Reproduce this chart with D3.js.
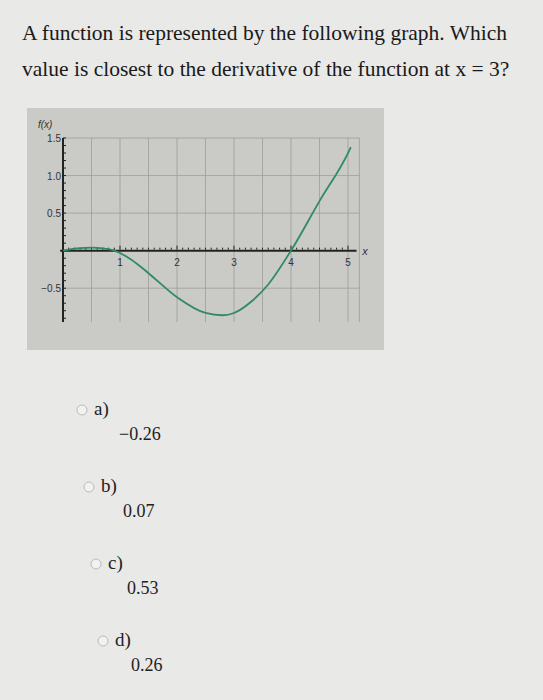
<!DOCTYPE html>
<meta charset="utf-8">
<script src="https://cdn.jsdelivr.net/npm/d3@7"></script>
<style>body{margin:0;background:#e9e9e7;}</style>
<div id="js_chart"></div>
<script>
// data
const curveX = [0, 0.25, 0.5, 0.7, 0.9, 1.2, 1.5, 2, 2.5, 2.8, 3, 3.3, 3.6, 4, 4.5, 5, 5.05];
const curveY = [0, 0.03, 0.04, 0.03, 0, -0.12, -0.3, -0.62, -0.83, -0.86, -0.83, -0.68, -0.45, 0, 0.66, 1.3, 1.38];
const xTicks = [1, 2, 3, 4, 5];
const yTicks = [1.5, 1.0, 0.5, -0.5];
const titleLines = ["A function is represented by the following graph. Which", "value is closest to the derivative of the function at x = 3?"];
const optLetters = ["a)", "b)", "c)", "d)"];
const optValues = ["\u22120.26", "0.07", "0.53", "0.26"];

const svg = d3.select("#js_chart").append("svg").attr("width", 543).attr("height", 700);

// title
svg.selectAll("text.title").data(titleLines).enter().append("text")
    .attr("x", 22).attr("y", (d, i) => 40 + i * 36)
    .style("font-family", "Liberation Serif").style("font-size", "21.5px").attr("fill", "#1a1a1a")
    .text(d => d);

// graph panel
svg.append("rect").attr("x", 27).attr("y", 108).attr("width", 357).attr("height", 242).attr("fill", "#cacac7");

let x = d3.scaleLinear().domain([0, 5]).range([63, 348]);
let y = d3.scaleLinear().domain([-0.95, 1.5]).range([322, 138]);

const g = svg.append("g");
// grid
g.selectAll("line.v").data(d3.range(0.5, 5.01, 0.5).concat([5.2])).enter().append("line")
    .attr("x1", d => x(d)).attr("x2", d => x(d)).attr("y1", y(1.5)).attr("y2", y(-0.95))
    .attr("stroke", "#9d9d9b").attr("stroke-width", 0.8);
g.selectAll("line.h").data([1.5, 1.0, 0.5, -0.5]).enter().append("line")
    .attr("x1", x(0)).attr("x2", x(5.2)).attr("y1", d => y(d)).attr("y2", d => y(d))
    .attr("stroke", "#9d9d9b").attr("stroke-width", 0.8);

// axes
g.append("line").attr("x1", x(0)).attr("x2", x(0)).attr("y1", y(1.5)).attr("y2", y(-0.95)).attr("stroke", "#222").attr("stroke-width", 2);
g.append("line").attr("x1", x(-0.05)).attr("x2", x(5.15)).attr("y1", y(0)).attr("y2", y(0)).attr("stroke", "#222").attr("stroke-width", 2);
g.selectAll("line.xt").data(d3.range(1, 51)).enter().append("line")
    .attr("x1", d => x(d / 10)).attr("x2", d => x(d / 10))
    .attr("y1", y(0) - 1).attr("y2", d => y(0) - (d % 10 === 0 ? 5 : 3))
    .attr("stroke", "#222");
g.selectAll("line.yt").data(d3.range(-9, 16)).enter().append("line")
    .attr("x1", x(0)).attr("x2", x(0) + 3).attr("y1", d => y(d / 10)).attr("y2", d => y(d / 10)).attr("stroke", "#222");

g.selectAll("text.xl").data(xTicks).enter().append("text")
    .attr("x", d => x(d)).attr("y", y(0) + 15).attr("text-anchor", "middle")
    .style("font-family", "Liberation Sans").style("font-size", "10px").attr("fill", "#333").text(d => d);
g.selectAll("text.yl").data(yTicks).enter().append("text")
    .attr("x", x(0) - 2).attr("y", d => y(d) + 4).attr("text-anchor", "end")
    .style("font-family", "Liberation Sans").style("font-size", "10px").attr("fill", "#333")
    .text(d => d < 0 ? "\u2212" + Math.abs(d).toFixed(1) : d.toFixed(1));
g.append("text").attr("x", x(0) - 25).attr("y", y(1.5) - 10).style("font-family", "Liberation Sans").style("font-size", "10px").style("font-style", "italic").attr("fill", "#333").text("f(x)");
g.append("text").attr("x", x(5.25)).attr("y", y(0) + 4).style("font-family", "Liberation Sans").style("font-size", "11px").style("font-style", "italic").attr("fill", "#333").text("x");

const pts = curveX.map((d, i) => [d, curveY[i]]);
g.append("path").datum(pts)
    .attr("d", d3.line().x(d => x(d[0])).y(d => y(d[1])).curve(d3.curveMonotoneX))
    .attr("fill", "none").attr("stroke", "#2f8a6a").attr("stroke-width", 1.8);

// options
const opt = svg.selectAll("g.opt").data(optLetters).enter().append("g")
    .attr("transform", (d, i) => "translate(" + (82 + i * 7) + "," + (415 + i * 77) + ")");
opt.append("circle").attr("cx", 0).attr("cy", -5).attr("r", 5).attr("fill", "#f2f2f2").attr("stroke", "#bbb");
opt.append("text").attr("x", 12).attr("y", 0).style("font-family", "Liberation Serif").style("font-size", "19px").attr("fill", "#222").text(d => d);
opt.append("text").attr("x", (d, i) => 37 - i * 3).attr("y", 25)
    .style("font-family", "Liberation Serif").style("font-size", "18px").attr("fill", "#222")
    .text((d, i) => optValues[i]);
</script>
